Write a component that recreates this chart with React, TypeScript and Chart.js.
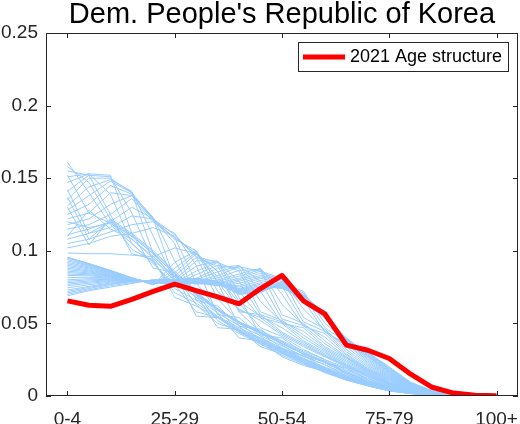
import React, { useEffect, useRef } from 'react';
import { Chart, registerables } from 'chart.js';

Chart.register(...registerables);

const titleText = "Dem. People's Republic of Korea";
const legendLabel = '2021 Age structure';

const ageGroups = ['0-4', '5-9', '10-14', '15-19', '20-24', '25-29', '30-34', '35-39', '40-44', '45-49', '50-54', '55-59', '60-64', '65-69', '70-74', '75-79', '80-84', '85-89', '90-94', '95-99', '100+'];
const xTickIndices = [0, 5, 10, 15, 20];
const yTicks = [0, 0.05, 0.1, 0.15, 0.2, 0.25];

const age2021 = [0.0655, 0.0625, 0.0618, 0.0665, 0.0720, 0.0770, 0.0725, 0.0683, 0.0635, 0.0740, 0.0830, 0.0655, 0.0565, 0.0350, 0.0315, 0.0258, 0.0150, 0.0060, 0.0020, 0.0006, 0.0002];

const u11 = [0.110, 0.128, 0.115, 0.108, 0.096, 0.082, 0.070, 0.060, 0.051, 0.045, 0.038, 0.031, 0.025, 0.018, 0.012, 0.007, 0.0035, 0.0012, 0.0003, 0.0001, 0];
const i1 = [0.120, 0.116, 0.119, 0.110, 0.098, 0.084, 0.071, 0.060, 0.051, 0.044, 0.037, 0.030, 0.024, 0.017, 0.011, 0.0065, 0.0032, 0.0011, 0.0003, 0.0001, 0];
const u10 = [0.130, 0.104, 0.122, 0.112, 0.100, 0.086, 0.072, 0.060, 0.051, 0.044, 0.036, 0.029, 0.023, 0.016, 0.010, 0.006, 0.003, 0.001, 0.0003, 0.0001, 0];
const i2 = [0.137, 0.108, 0.121, 0.111, 0.099, 0.085, 0.071, 0.0595, 0.0505, 0.0435, 0.036, 0.029, 0.023, 0.016, 0.010, 0.006, 0.003, 0.001, 0.0003, 0.0001, 0];
const u12 = [0.142, 0.112, 0.120, 0.110, 0.098, 0.084, 0.070, 0.059, 0.050, 0.043, 0.036, 0.029, 0.023, 0.016, 0.010, 0.006, 0.003, 0.001, 0.0003, 0.0001, 0];
const i3 = [0.152, 0.126, 0.119, 0.108, 0.095, 0.079, 0.068, 0.057, 0.0485, 0.0415, 0.0345, 0.0275, 0.0215, 0.015, 0.0095, 0.0055, 0.0027, 0.001, 0.0003, 0.0001, 0];
const u1 = [0.161, 0.140, 0.118, 0.105, 0.092, 0.074, 0.066, 0.055, 0.047, 0.040, 0.033, 0.026, 0.020, 0.014, 0.009, 0.005, 0.0025, 0.001, 0.0003, 0.0001, 0];
const i4 = [0.158, 0.147, 0.122, 0.101, 0.093, 0.071, 0.064, 0.0545, 0.046, 0.0395, 0.032, 0.0255, 0.0195, 0.0135, 0.0085, 0.0047, 0.0022, 0.0009, 0.0002, 0.0001, 0];
const u2 = [0.155, 0.152, 0.125, 0.098, 0.094, 0.068, 0.062, 0.054, 0.045, 0.039, 0.031, 0.025, 0.019, 0.013, 0.008, 0.0045, 0.002, 0.0008, 0.0002, 0.0001, 0];
const i5 = [0.151, 0.153, 0.139, 0.105, 0.091, 0.077, 0.058, 0.054, 0.0445, 0.038, 0.0305, 0.0245, 0.0185, 0.0125, 0.0078, 0.0042, 0.002, 0.0007, 0.0002, 0.0001, 0];
const u3 = [0.147, 0.153, 0.152, 0.112, 0.088, 0.085, 0.055, 0.054, 0.044, 0.037, 0.030, 0.024, 0.018, 0.012, 0.0075, 0.004, 0.002, 0.0007, 0.0002, 0.0001, 0];
const i6 = [0.141, 0.152, 0.151, 0.126, 0.093, 0.083, 0.063, 0.050, 0.045, 0.0355, 0.0295, 0.0235, 0.017, 0.0115, 0.0072, 0.0037, 0.0018, 0.0006, 0.0002, 0.0001, 0];
const u4 = [0.135, 0.150, 0.150, 0.140, 0.098, 0.080, 0.070, 0.047, 0.046, 0.034, 0.029, 0.023, 0.016, 0.011, 0.007, 0.0035, 0.0017, 0.0006, 0.0002, 0.0001, 0];
const i7 = [0.131, 0.144, 0.149, 0.141, 0.110, 0.079, 0.071, 0.052, 0.043, 0.036, 0.028, 0.022, 0.0165, 0.011, 0.007, 0.0035, 0.0017, 0.0006, 0.0002, 0.0001, 0];
const u5 = [0.128, 0.138, 0.148, 0.140, 0.122, 0.080, 0.072, 0.057, 0.040, 0.038, 0.027, 0.021, 0.017, 0.011, 0.007, 0.0035, 0.0017, 0.0006, 0.0002, 0.0001, 0];
const i8 = [0.125, 0.132, 0.145, 0.139, 0.123, 0.093, 0.069, 0.060, 0.044, 0.037, 0.030, 0.022, 0.0175, 0.0115, 0.0072, 0.0037, 0.0017, 0.0006, 0.0002, 0.0001, 0];
const u6 = [0.122, 0.126, 0.140, 0.138, 0.122, 0.105, 0.066, 0.062, 0.048, 0.036, 0.033, 0.023, 0.018, 0.012, 0.0075, 0.004, 0.0018, 0.0006, 0.0002, 0.0001, 0];
const i9 = [0.118, 0.122, 0.132, 0.138, 0.121, 0.109, 0.078, 0.059, 0.051, 0.038, 0.032, 0.0255, 0.0185, 0.0125, 0.0078, 0.0041, 0.0019, 0.0007, 0.0002, 0.0001, 0];
const u7 = [0.115, 0.118, 0.125, 0.136, 0.120, 0.112, 0.090, 0.056, 0.054, 0.041, 0.031, 0.028, 0.019, 0.013, 0.008, 0.0043, 0.002, 0.0007, 0.0002, 0.0001, 0];
const i10 = [0.111, 0.115, 0.120, 0.130, 0.122, 0.111, 0.096, 0.067, 0.051, 0.0435, 0.033, 0.0275, 0.0215, 0.014, 0.0085, 0.0047, 0.0021, 0.0007, 0.0002, 0.0001, 0];
const u8 = [0.108, 0.112, 0.116, 0.124, 0.122, 0.108, 0.100, 0.078, 0.048, 0.046, 0.035, 0.027, 0.024, 0.015, 0.009, 0.005, 0.0022, 0.0008, 0.0002, 0.0001, 0];
const i11 = [0.105, 0.108, 0.113, 0.118, 0.120, 0.109, 0.098, 0.086, 0.058, 0.044, 0.0375, 0.0285, 0.0235, 0.017, 0.010, 0.0055, 0.0024, 0.0009, 0.0003, 0.0001, 0];
const u9 = [0.102, 0.105, 0.110, 0.112, 0.116, 0.110, 0.096, 0.092, 0.068, 0.042, 0.040, 0.030, 0.023, 0.019, 0.011, 0.006, 0.0025, 0.0009, 0.0003, 0.0001, 0];
const i12 = [0.0985, 0.098, 0.098, 0.097, 0.096, 0.102, 0.098, 0.082, 0.064, 0.047, 0.041, 0.032, 0.025, 0.0195, 0.012, 0.0068, 0.003, 0.001, 0.0003, 0.0001, 0];

const f1 = [0.0955, 0.0912, 0.0866, 0.0815, 0.0765, 0.092, 0.100, 0.072, 0.060, 0.052, 0.042, 0.034, 0.027, 0.020, 0.013, 0.0075, 0.0035, 0.0012, 0.0003, 0.0001, 0];
const g1 = [0.0955, 0.0911, 0.0864, 0.0813, 0.0766, 0.088, 0.099, 0.079, 0.059, 0.054, 0.043, 0.035, 0.0275, 0.0205, 0.0135, 0.0078, 0.0036, 0.0012, 0.0003, 0.0001, 0];
const f2 = [0.0955, 0.0910, 0.0862, 0.0812, 0.0768, 0.085, 0.098, 0.086, 0.058, 0.056, 0.044, 0.036, 0.028, 0.021, 0.014, 0.008, 0.0038, 0.0013, 0.0003, 0.0001, 0];
const g2 = [0.0952, 0.0908, 0.0861, 0.0812, 0.0770, 0.0825, 0.0955, 0.0895, 0.065, 0.055, 0.047, 0.037, 0.029, 0.0215, 0.0145, 0.0082, 0.0039, 0.0013, 0.0003, 0.0001, 0];
const f3 = [0.0950, 0.0905, 0.0860, 0.0812, 0.0772, 0.080, 0.093, 0.093, 0.072, 0.054, 0.050, 0.038, 0.030, 0.022, 0.015, 0.0085, 0.004, 0.0014, 0.0004, 0.0001, 0];
const g3 = [0.0940, 0.0900, 0.0857, 0.0812, 0.0774, 0.079, 0.0895, 0.0925, 0.079, 0.056, 0.051, 0.040, 0.031, 0.023, 0.0155, 0.0088, 0.0041, 0.0014, 0.0004, 0.0001, 0];
const f4 = [0.0930, 0.0895, 0.0855, 0.0812, 0.0775, 0.078, 0.086, 0.092, 0.086, 0.058, 0.052, 0.042, 0.032, 0.024, 0.016, 0.009, 0.0042, 0.0015, 0.0004, 0.0001, 0];
const g4 = [0.0920, 0.0888, 0.0851, 0.0811, 0.0776, 0.0775, 0.0835, 0.090, 0.088, 0.065, 0.051, 0.0445, 0.033, 0.025, 0.0165, 0.0095, 0.0044, 0.0015, 0.0004, 0.0001, 0];
const f5 = [0.0910, 0.0882, 0.0848, 0.0810, 0.0778, 0.077, 0.081, 0.088, 0.090, 0.072, 0.050, 0.047, 0.034, 0.026, 0.017, 0.010, 0.0045, 0.0016, 0.0004, 0.0001, 0];
const g5 = [0.0900, 0.0875, 0.0844, 0.0809, 0.0779, 0.077, 0.080, 0.0855, 0.0895, 0.079, 0.053, 0.0485, 0.036, 0.0265, 0.0175, 0.0105, 0.0048, 0.0017, 0.0004, 0.0001, 0];
const f6 = [0.0890, 0.0868, 0.0840, 0.0808, 0.0780, 0.077, 0.079, 0.083, 0.089, 0.086, 0.056, 0.050, 0.038, 0.027, 0.018, 0.011, 0.005, 0.0018, 0.0005, 0.0001, 0];
const g6 = [0.0880, 0.0861, 0.0836, 0.0807, 0.0781, 0.0775, 0.0785, 0.0815, 0.0865, 0.087, 0.063, 0.049, 0.0405, 0.028, 0.0185, 0.0115, 0.0052, 0.0019, 0.0005, 0.0001, 0];
const f7 = [0.0870, 0.0855, 0.0832, 0.0806, 0.0782, 0.078, 0.078, 0.080, 0.084, 0.088, 0.070, 0.048, 0.043, 0.029, 0.019, 0.012, 0.0055, 0.002, 0.0005, 0.0001, 0];
const g7 = [0.0860, 0.0848, 0.0828, 0.0805, 0.0783, 0.0785, 0.0775, 0.079, 0.0825, 0.087, 0.0755, 0.051, 0.0445, 0.0305, 0.020, 0.0125, 0.0058, 0.0021, 0.0005, 0.0001, 0];
const f8 = [0.0850, 0.0842, 0.0825, 0.0804, 0.0785, 0.079, 0.077, 0.078, 0.081, 0.086, 0.081, 0.054, 0.046, 0.032, 0.021, 0.013, 0.006, 0.0022, 0.0006, 0.0001, 0];
const g8 = [0.0840, 0.0835, 0.0821, 0.0803, 0.0786, 0.0795, 0.0775, 0.077, 0.080, 0.0845, 0.0805, 0.060, 0.045, 0.034, 0.022, 0.0135, 0.0062, 0.0023, 0.0006, 0.0001, 0];
const f9 = [0.0830, 0.0828, 0.0818, 0.0802, 0.0788, 0.080, 0.078, 0.076, 0.079, 0.083, 0.080, 0.066, 0.044, 0.036, 0.023, 0.014, 0.0065, 0.0024, 0.0006, 0.0001, 0];
const g9 = [0.0815, 0.0818, 0.0813, 0.0801, 0.0789, 0.080, 0.079, 0.076, 0.0775, 0.082, 0.079, 0.069, 0.047, 0.037, 0.024, 0.0145, 0.0068, 0.0025, 0.0006, 0.0001, 0];
const f10 = [0.0800, 0.0808, 0.0808, 0.0800, 0.0790, 0.080, 0.080, 0.076, 0.076, 0.081, 0.078, 0.072, 0.050, 0.038, 0.025, 0.015, 0.007, 0.0026, 0.0007, 0.0002, 0];
const g10 = [0.0790, 0.0800, 0.0804, 0.0799, 0.0791, 0.080, 0.0805, 0.077, 0.075, 0.0795, 0.077, 0.071, 0.053, 0.0375, 0.026, 0.0155, 0.0072, 0.0027, 0.0007, 0.0002, 0];
const f11 = [0.0780, 0.0792, 0.0800, 0.0798, 0.0792, 0.080, 0.081, 0.078, 0.074, 0.078, 0.076, 0.070, 0.056, 0.037, 0.027, 0.016, 0.0075, 0.0028, 0.0007, 0.0002, 0];
const g11 = [0.0770, 0.0784, 0.0795, 0.0797, 0.0793, 0.080, 0.081, 0.0785, 0.0735, 0.077, 0.075, 0.0695, 0.0565, 0.038, 0.0275, 0.0165, 0.0078, 0.0029, 0.0007, 0.0002, 0];
const f12 = [0.0760, 0.0776, 0.0790, 0.0796, 0.0794, 0.080, 0.081, 0.079, 0.073, 0.076, 0.074, 0.069, 0.057, 0.039, 0.028, 0.017, 0.008, 0.003, 0.0008, 0.0002, 0];
const g12 = [0.0745, 0.0766, 0.0784, 0.0794, 0.0795, 0.080, 0.0805, 0.079, 0.0725, 0.075, 0.0745, 0.0675, 0.056, 0.0395, 0.0285, 0.0175, 0.0082, 0.0031, 0.0008, 0.0002, 0];
const f13 = [0.0730, 0.0755, 0.0778, 0.0792, 0.0796, 0.080, 0.080, 0.079, 0.072, 0.074, 0.075, 0.066, 0.055, 0.040, 0.029, 0.018, 0.0085, 0.0032, 0.0008, 0.0002, 0];
const g13 = [0.0720, 0.0748, 0.0773, 0.0790, 0.0797, 0.080, 0.0795, 0.0785, 0.0715, 0.073, 0.076, 0.065, 0.0545, 0.039, 0.0295, 0.0185, 0.0088, 0.0033, 0.0008, 0.0002, 0];
const f14 = [0.0710, 0.0740, 0.0768, 0.0788, 0.0798, 0.0800, 0.079, 0.078, 0.071, 0.072, 0.077, 0.064, 0.054, 0.038, 0.030, 0.019, 0.009, 0.0034, 0.0009, 0.0002, 0];
const g14 = [0.0700, 0.0732, 0.0759, 0.0781, 0.0799, 0.080, 0.0785, 0.0775, 0.0705, 0.0715, 0.078, 0.065, 0.055, 0.037, 0.030, 0.0195, 0.0092, 0.0035, 0.001, 0.0002, 0];
const f15 = [0.0690, 0.0725, 0.0750, 0.0775, 0.0800, 0.0800, 0.078, 0.077, 0.070, 0.071, 0.079, 0.066, 0.056, 0.036, 0.030, 0.020, 0.0095, 0.0036, 0.001, 0.0002, 0];

const pastStructures = [
  u11, i1, u10, i2, u12, i3, u1, i4, u2, i5, u3, i6, u4, i7, u5, i8, u6, i9, u7, i10, u8, i11, u9, i12,
  f1, g1, f2, g2, f3, g3, f4, g4, f5, g5, f6, g6, f7, g7, f8, g8, f9, g9, f10, g10, f11, g11, f12, g12, f13, g13, f14, g14, f15,
];

const FONT = '"Liberation Sans", Arial, Helvetica, sans-serif';
const AXIS_COLOR = '#262626';
const BLUE = 'rgb(153,204,255)';
const RED = '#ff0000';

const toPoints = (vals: number[]) => vals.map((v, i) => ({ x: i, y: v }));

const framePlugin = {
  id: 'matlabFrame',
  afterDatasetsDraw(chart: any) {
    const { ctx, chartArea: a, scales } = chart;
    ctx.save();
    ctx.strokeStyle = AXIS_COLOR;
    ctx.lineWidth = 1;
    ctx.strokeRect(a.left + 0.5, a.top + 0.5, a.right - a.left - 1, a.bottom - a.top - 1);
    const L = 5;
    ctx.beginPath();
    for (const v of xTickIndices) {
      const x = Math.round(scales.x.getPixelForValue(v)) + 0.5;
      ctx.moveTo(x, a.bottom);
      ctx.lineTo(x, a.bottom - L);
      ctx.moveTo(x, a.top);
      ctx.lineTo(x, a.top + L);
    }
    for (const v of yTicks) {
      const y = Math.round(scales.y.getPixelForValue(v)) + 0.5;
      ctx.moveTo(a.left, y);
      ctx.lineTo(a.left + L, y);
      ctx.moveTo(a.right, y);
      ctx.lineTo(a.right - L, y);
    }
    ctx.stroke();

    ctx.font = `18px ${FONT}`;
    const tw = ctx.measureText(legendLabel).width;
    const w = Math.round(5 + 42 + 5 + tw + 6);
    const h = 29;
    const lx = Math.round(a.right - 10 - w);
    const ly = Math.round(a.top + 9);
    ctx.fillStyle = '#ffffff';
    ctx.fillRect(lx, ly, w, h);
    ctx.strokeStyle = AXIS_COLOR;
    ctx.lineWidth = 1;
    ctx.strokeRect(lx + 0.5, ly + 0.5, w, h);
    ctx.strokeStyle = RED;
    ctx.lineWidth = 5;
    ctx.beginPath();
    ctx.moveTo(lx + 5, ly + h / 2 + 0.5);
    ctx.lineTo(lx + 47, ly + h / 2 + 0.5);
    ctx.stroke();
    ctx.fillStyle = '#000000';
    ctx.textBaseline = 'middle';
    ctx.textAlign = 'left';
    ctx.fillText(legendLabel, lx + 52, ly + h / 2 + 1);
    ctx.restore();
  },
};

export default function App() {
  const canvasRef = useRef<HTMLCanvasElement | null>(null);

  useEffect(() => {
    document.body.style.margin = '0';
    const canvas = canvasRef.current;
    if (!canvas) return;

    const datasets: any[] = [
      {
        label: legendLabel,
        data: toPoints(age2021),
        borderColor: RED,
        backgroundColor: RED,
        borderWidth: 5,
        pointRadius: 0,
        borderJoinStyle: 'round',
        tension: 0,
        order: 0,
      },
      ...pastStructures.map((vals, k) => ({
        label: `past-${k}`,
        data: toPoints(vals),
        borderColor: BLUE,
        backgroundColor: BLUE,
        borderWidth: 1,
        pointRadius: 0,
        tension: 0,
        order: 1,
      })),
    ];

    const chart = new Chart(canvas, {
      type: 'line',
      data: { datasets },
      plugins: [framePlugin],
      options: {
        animation: false,
        responsive: false,
        events: [],
        layout: { padding: { left: 0, right: 2, top: 0, bottom: 0 } },
        plugins: {
          legend: { display: false },
          tooltip: { enabled: false },
          title: {
            display: true,
            text: titleText,
            fullSize: false,
            color: '#000000',
            font: { family: FONT, size: 29, weight: 'normal', lineHeight: 1 },
            padding: { top: 0, bottom: 4 },
          },
        },
        scales: {
          x: {
            type: 'linear',
            min: -1,
            max: 21,
            afterBuildTicks: (s: any) => {
              s.ticks = xTickIndices.map((v) => ({ value: v }));
            },
            afterFit: (s: any) => {
              s.height = 28;
              s.paddingLeft = 0;
              s.paddingRight = 0;
            },
            grid: { display: false, drawTicks: false },
            border: { display: false },
            ticks: {
              autoSkip: false,
              maxRotation: 0,
              padding: 12,
              color: AXIS_COLOR,
              font: { family: FONT, size: 19 },
              callback: (v: any) => ageGroups[Number(v)] ?? '',
            },
          },
          y: {
            type: 'linear',
            min: 0,
            max: 0.25,
            afterBuildTicks: (s: any) => {
              s.ticks = yTicks.map((v) => ({ value: v }));
            },
            afterFit: (s: any) => {
              s.width = 46;
              s.paddingTop = 0;
              s.paddingBottom = 0;
            },
            grid: { display: false, drawTicks: false },
            border: { display: false },
            ticks: {
              padding: 8,
              color: AXIS_COLOR,
              font: { family: FONT, size: 19 },
              callback: (v: any) => String(Number(Number(v).toFixed(2))),
            },
          },
        },
      },
    } as any);

    return () => chart.destroy();
  }, []);

  return (
    <div style={{ width: 520, height: 424 }}>
      <canvas ref={canvasRef} width={520} height={424} style={{ display: 'block' }} />
    </div>
  );
}
